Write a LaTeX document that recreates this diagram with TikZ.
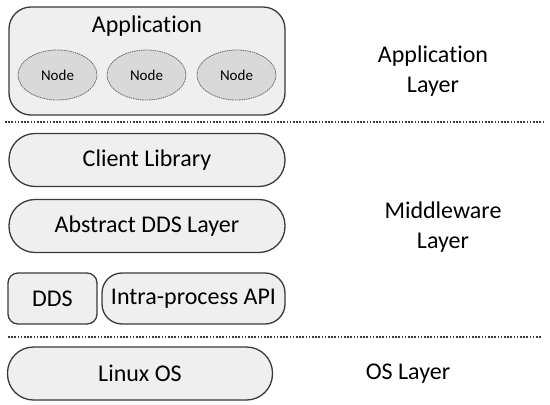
\documentclass[tikz,border=0pt]{standalone}
\usepackage{fontspec}
\setmainfont{Carlito}[Ligatures={NoCommon}]
\usetikzlibrary{shapes.geometric}
\definecolor{edge}{HTML}{3A3A3A}
\definecolor{boxfill}{HTML}{EFEFEF}
\definecolor{nodefill}{HTML}{D9D9D9}
\tikzset{
  box/.style={draw=edge, fill=boxfill, line width=1.3pt, inner sep=0pt, font=\fontsize{24}{28}\selectfont},
  pill/.style={box, rounded corners=26pt, minimum height=53pt},
  rosnode/.style={ellipse, draw=edge!75, fill=nodefill, dash pattern=on 1.5pt off 0.8pt, line width=0.8pt, minimum width=79pt, minimum height=50pt, inner sep=0pt, font=\fontsize{15}{18}\selectfont},
  sep/.style={draw=edge, line width=1.3pt, dash pattern=on 1.6pt off 1.6pt},
  layerlbl/.style={align=center, font=\fontsize{24}{30}\selectfont}
}
\begin{document}
\begin{tikzpicture}[x=1pt, y=-1pt]
\useasboundingbox (0,0) rectangle (550,405);
% Application layer
\node[box, rounded corners=22pt, minimum width=276pt, minimum height=108pt] (app) at (147,61) {};
\node[font=\fontsize{24}{28}\selectfont] (apptitle) at (147,26) {Application};
\node[rosnode] (n1) at (57.5,75) {Node};
\node[rosnode] (n2) at (146.5,75) {Node};
\node[rosnode] (n3) at (236.5,75) {Node};
\node[layerlbl] (applbl) at (433,71) {Application\\Layer};
% separator 1
\coordinate (s1a) at (5,122);
\coordinate (s1b) at (545,122);
\draw[sep] (s1a) -- (s1b);
% Middleware
\node[pill, minimum width=276pt] (cl) at (147,160) {Client Library};
\node[pill, minimum width=276pt] (adl) at (147,226) {Abstract DDS Layer};
\node[box, rounded corners=10pt, minimum width=89pt, minimum height=51pt] (dds) at (52.5,298.5) {DDS};
\node[box, rounded corners=20pt, minimum width=183pt, minimum height=51pt] (ipa) at (193.5,298.5) {Intra-process API};
\node[layerlbl] (mwlbl) at (443,227) {Middleware\\Layer};
% separator 2
\coordinate (s2a) at (8,337);
\coordinate (s2b) at (542,337);
\draw[sep] (s2a) -- (s2b);
% OS
\node[pill, minimum width=265pt] (os) at (140,373.5) {Linux OS};
\node[font=\fontsize{24}{28}\selectfont] (oslbl) at (408,374) {OS Layer};
\end{tikzpicture}
\end{document}
